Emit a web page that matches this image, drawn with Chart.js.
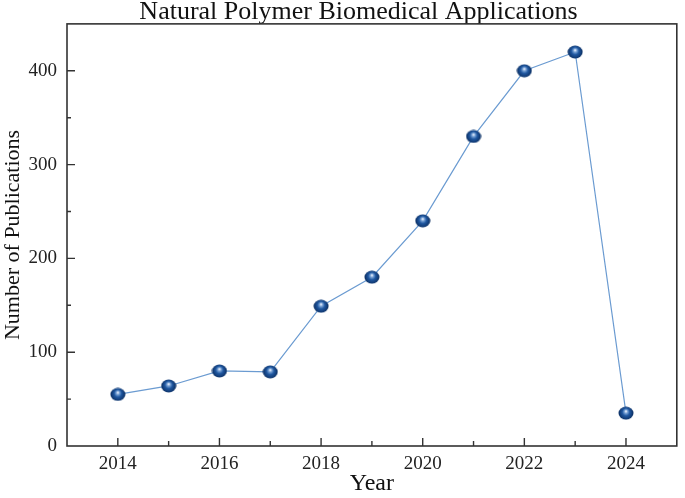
<!DOCTYPE html>
<html>
<head>
<meta charset="utf-8">
<script src="https://cdn.jsdelivr.net/npm/chart.js@4"></script>
<style>
html,body{margin:0;padding:0;background:#fff;}
#wrap{width:685px;height:498px;}
</style>
</head>
<body>
<div id="wrap"><canvas id="c" width="685" height="498"></canvas></div>
<script>
const years = [2014, 2015, 2016, 2017, 2018, 2019, 2020, 2021, 2022, 2023, 2024];
const publications = [55, 64, 80, 79, 149, 180, 240, 330, 400, 420, 35];
const xLabelYears = [2014, 2016, 2018, 2020, 2022, 2024];
const yTickValues = [0, 100, 200, 300, 400];

function makeSphere() {
  const w = 16, h = 14;
  const c = document.createElement('canvas');
  c.width = w; c.height = h;
  const g = c.getContext('2d');
  const grad = g.createRadialGradient(w*0.5, h*0.36, 0.3, w*0.5, h*0.5, w*0.5);
  grad.addColorStop(0, '#eef4ff');
  grad.addColorStop(0.18, '#7aa3d6');
  grad.addColorStop(0.45, '#1f57a0');
  grad.addColorStop(1, '#072757');
  g.fillStyle = grad;
  g.beginPath();
  g.ellipse(w/2, h/2, w/2 - 0.5, h/2 - 0.5, 0, 0, Math.PI*2);
  g.fill();
  return c;
}
const sphere = makeSphere();

const frame = {
  id: 'frame',
  afterLayout(chart) {
    const t = chart.titleBlock;
    if (t) { t.left += 18; t.right += 18; }
  },
  afterDraw(chart) {
    const ctx = chart.ctx, a = chart.chartArea;
    const xs = chart.scales.x, ys = chart.scales.y;
    ctx.save();
    ctx.strokeStyle = '#333';
    ctx.lineWidth = 1.6;
    ctx.strokeRect(a.left, a.top, a.right - a.left, a.bottom - a.top);
    ctx.lineWidth = 1.4;
    ctx.beginPath();
    for (let yv = 2014; yv <= 2024; yv++) {
      const px = xs.getPixelForValue(yv);
      const len = (yv % 2 === 0) ? 8 : 5;
      ctx.moveTo(px, a.bottom); ctx.lineTo(px, a.bottom - len);
    }
    for (let v = 50; v < 450; v += 50) {
      const py = ys.getPixelForValue(v);
      const len = (v % 100 === 0) ? 8 : 4;
      ctx.moveTo(a.left, py); ctx.lineTo(a.left + len, py);
    }
    ctx.stroke();
    ctx.restore();
  }
};

new Chart(document.getElementById('c'), {
  type: 'line',
  data: {
    datasets: [{
      data: years.map((y, i) => ({x: y, y: publications[i]})),
      borderColor: '#6b9bd1',
      borderWidth: 1.2,
      pointStyle: sphere,
      pointRadius: 7,
      tension: 0,
      fill: false
    }]
  },
  options: {
    responsive: false,
    animation: false,
    devicePixelRatio: 1,
    layout: {padding: {left: 0, right: 4, top: 0, bottom: 0}},
    plugins: {
      legend: {display: false},
      tooltip: {enabled: false},
      title: {
        display: true,
        text: 'Natural Polymer Biomedical Applications',
        color: '#111',
        font: {family: 'Liberation Serif', size: 26, weight: 'normal', lineHeight: 0.88},
        padding: {top: 1, bottom: 0}
      }
    },
    scales: {
      x: {
        type: 'linear',
        min: 2013,
        max: 2025,
        afterFit(s) { s.height = 52; },
        grid: {display: false, drawTicks: false},
        border: {display: false},
        afterBuildTicks(s) { s.ticks = xLabelYears.map(v => ({value: v})); },
        ticks: {
          color: '#222',
          padding: 7,
          maxRotation: 0,
          font: {family: 'Liberation Serif', size: 19},
          callback: v => String(v)
        },
        title: {
          display: true,
          text: 'Year',
          color: '#111',
          padding: {top: 0, bottom: 0},
          font: {family: 'Liberation Serif', size: 24}
        }
      },
      y: {
        min: 0,
        max: 450,
        afterFit(s) { s.width = 67; },
        grid: {display: false, drawTicks: false},
        border: {display: false},
        afterBuildTicks(s) { s.ticks = yTickValues.map(v => ({value: v})); },
        ticks: {
          color: '#222',
          padding: 10,
          font: {family: 'Liberation Serif', size: 19}
        },
        title: {
          display: true,
          text: 'Number of Publications',
          color: '#111',
          padding: {top: 0, bottom: 0},
          font: {family: 'Liberation Serif', size: 22}
        }
      }
    }
  },
  plugins: [frame]
});
</script>
</body>
</html>
